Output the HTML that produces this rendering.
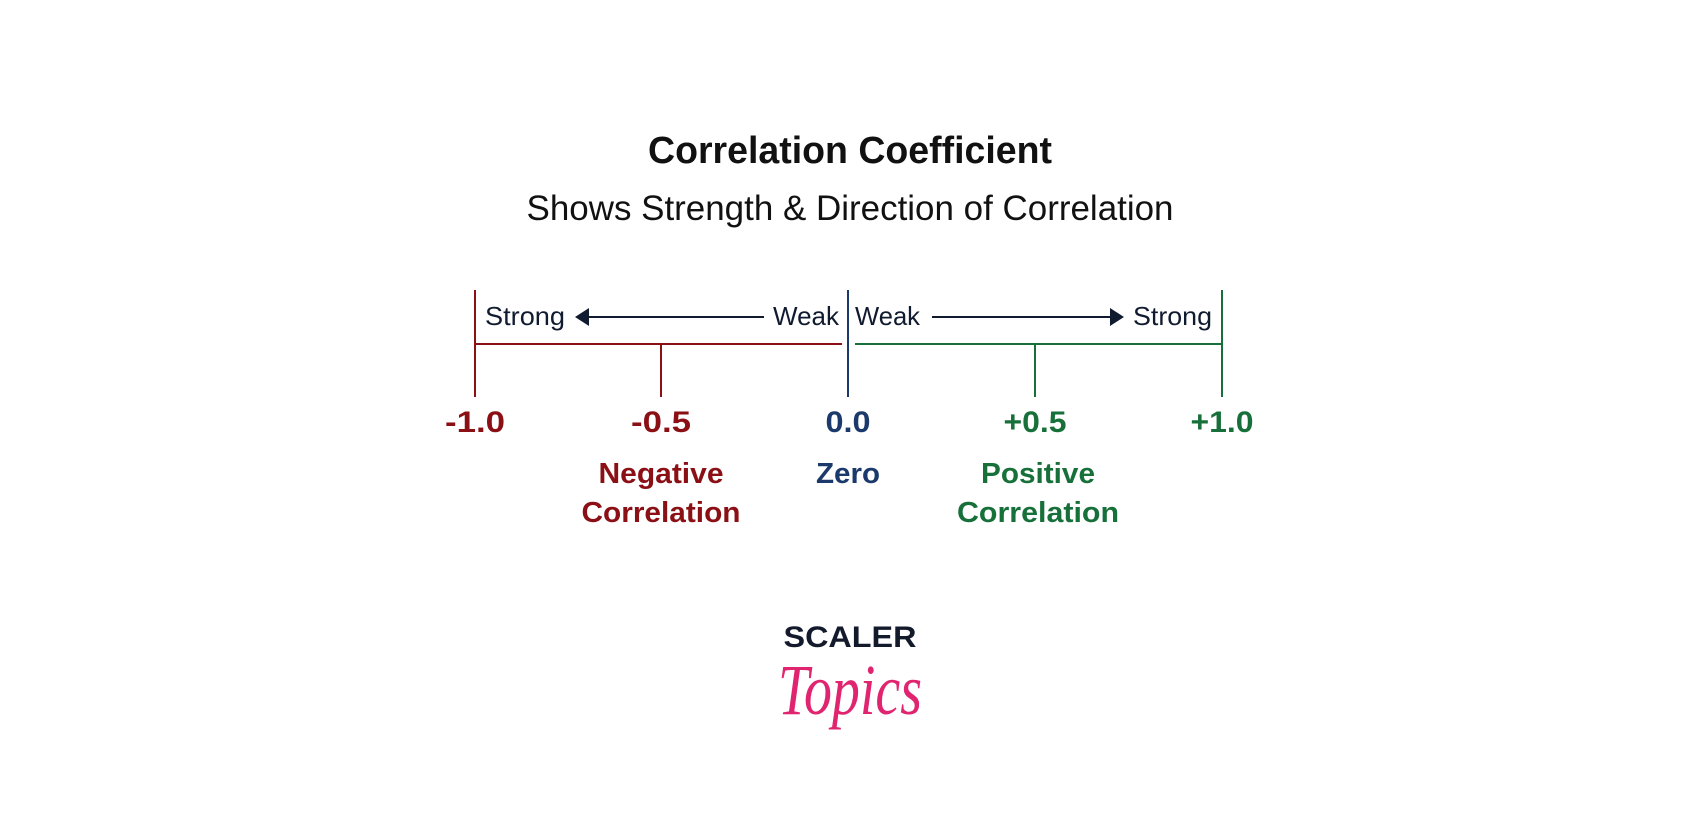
<!DOCTYPE html>
<html><head><meta charset="utf-8"><style>html,body{margin:0;padding:0;background:#fff}svg{display:block}</style></head>
<body>
<svg width="1700" height="832" viewBox="0 0 1700 832" xmlns="http://www.w3.org/2000/svg" font-family="Liberation Sans, sans-serif">
<rect width="1700" height="832" fill="#fff"/>
<text x="850" y="163" text-anchor="middle" font-size="38" font-weight="bold" fill="#111" textLength="404" lengthAdjust="spacingAndGlyphs">Correlation Coefficient</text>
<text x="850" y="220" text-anchor="middle" font-size="35" fill="#111" textLength="647" lengthAdjust="spacingAndGlyphs">Shows Strength &amp; Direction of Correlation</text>

<g stroke-width="2" fill="none">
<line x1="475" y1="290" x2="475" y2="397" stroke="#8b1015"/>
<line x1="661" y1="344" x2="661" y2="397" stroke="#8b1015"/>
<line x1="475" y1="344" x2="842" y2="344" stroke="#8b1015"/>
<line x1="848" y1="290" x2="848" y2="397" stroke="#1b3a6b"/>
<line x1="855" y1="344" x2="1222" y2="344" stroke="#17703a"/>
<line x1="1035" y1="344" x2="1035" y2="397" stroke="#17703a"/>
<line x1="1222" y1="290" x2="1222" y2="397" stroke="#17703a"/>
<line x1="585" y1="317" x2="764" y2="317" stroke="#111b30"/>
<line x1="932" y1="317" x2="1112" y2="317" stroke="#111b30"/>
</g>
<polygon points="575,317 589,308 589,326" fill="#111b30"/>
<polygon points="1124,317 1110,308 1110,326" fill="#111b30"/>

<g font-size="26" fill="#111b30">
<text x="485" y="325" textLength="80" lengthAdjust="spacingAndGlyphs">Strong</text>
<text x="773" y="325" textLength="66" lengthAdjust="spacingAndGlyphs">Weak</text>
<text x="855" y="325" textLength="65" lengthAdjust="spacingAndGlyphs">Weak</text>
<text x="1133" y="325" textLength="79" lengthAdjust="spacingAndGlyphs">Strong</text>
</g>

<g font-size="30" font-weight="bold" text-anchor="middle">
<text x="475" y="432" fill="#8b1015" textLength="60" lengthAdjust="spacingAndGlyphs">-1.0</text>
<text x="661" y="432" fill="#8b1015" textLength="60" lengthAdjust="spacingAndGlyphs">-0.5</text>
<text x="848" y="432" fill="#1b3a6b" textLength="45" lengthAdjust="spacingAndGlyphs">0.0</text>
<text x="1035" y="432" fill="#17703a" textLength="63" lengthAdjust="spacingAndGlyphs">+0.5</text>
<text x="1222" y="432" fill="#17703a" textLength="63" lengthAdjust="spacingAndGlyphs">+1.0</text>
</g>
<g font-size="29" font-weight="bold" text-anchor="middle">
<text x="661" y="483" fill="#8b1015" textLength="125" lengthAdjust="spacingAndGlyphs">Negative</text>
<text x="661" y="522" fill="#8b1015" textLength="159" lengthAdjust="spacingAndGlyphs">Correlation</text>
<text x="848" y="483" fill="#1b3a6b" textLength="64" lengthAdjust="spacingAndGlyphs">Zero</text>
<text x="1038" y="483" fill="#17703a" textLength="114" lengthAdjust="spacingAndGlyphs">Positive</text>
<text x="1038" y="522" fill="#17703a" textLength="162" lengthAdjust="spacingAndGlyphs">Correlation</text>
</g>

<text x="850" y="647" text-anchor="middle" font-size="30" font-weight="bold" fill="#131a2b" textLength="133" lengthAdjust="spacingAndGlyphs">SCALER</text>
<text x="850" y="714" text-anchor="middle" font-family="Liberation Serif, serif" font-style="italic" font-size="72" fill="#e0246f" textLength="144" lengthAdjust="spacingAndGlyphs">Topics</text>
</svg>
</body></html>
